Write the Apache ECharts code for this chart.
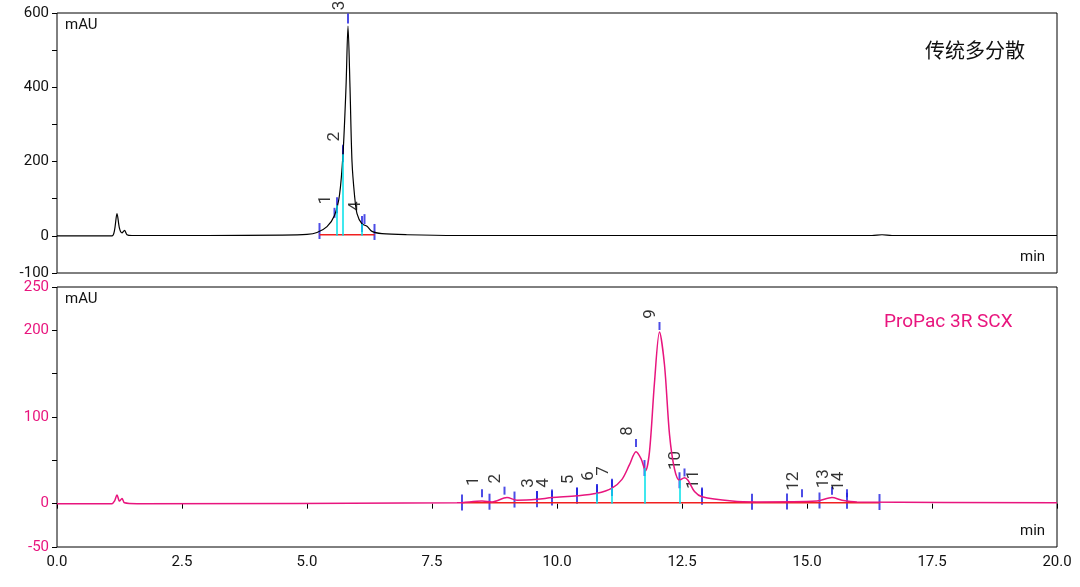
<!DOCTYPE html><html><head><meta charset="utf-8"><script src="https://cdn.jsdelivr.net/npm/echarts@6/dist/echarts.min.js"></script></head><body style="margin:0"><div id="c" style="width:1080px;height:587px"></div><script>
const xTicks=[0,2.5,5,7.5,10,12.5,15,17.5,20];
const topTrace=[[0,0],[1.1,0],[1.15,15],[1.2,60],[1.25,20],[1.3,8],[1.35,15],[1.4,3],[1.5,1],[3,1],[4.5,2],[5.0,4],[5.2,9],[5.4,25],[5.55,55],[5.65,110],[5.72,220],[5.78,400],[5.82,565],[5.86,400],[5.9,200],[5.95,110],[6.0,60],[6.1,32],[6.2,26],[6.3,12],[6.5,6],[7,3],[8,1],[16.3,1],[16.5,3],[16.7,1],[20,1]];
const botTrace=[[0,0],[1.1,0],[1.15,3],[1.2,10],[1.25,3],[1.3,6],[1.35,1],[1.6,0],[8,1],[8.5,3],[8.7,2],[9.0,7],[9.2,4],[9.6,5],[9.9,7],[10.4,9],[10.8,12],[11.1,18],[11.3,28],[11.45,45],[11.58,60],[11.68,52],[11.77,38],[11.85,60],[11.95,140],[12.05,198],[12.15,160],[12.25,80],[12.35,40],[12.45,27],[12.55,30],[12.62,27],[12.75,14],[12.9,8],[13.5,3],[14,2],[15.2,3],[15.5,7],[15.7,4],[16,2],[20,1]];
const topPeaks=[[5.55,62,'1'],[5.72,232,'2'],[5.82,585,'3'],[6.15,45,'4']];
const topBounds=[5.25,5.6,5.72,6.1,6.35];
const botPeaks=[[8.5,12,'1'],[8.95,15,'2'],[9.6,10,'3'],[9.9,10,'4'],[10.4,14,'5'],[10.8,18,'6'],[11.1,24,'7'],[11.58,70,'8'],[12.05,205,'9'],[12.55,36,'10'],[12.9,14,'11'],[14.9,12,'12'],[15.5,15,'13'],[15.8,12,'14']];
const botBounds=[8.1,8.65,9.15,9.6,9.9,10.4,10.8,11.1,11.75,12.45,12.9,13.9,14.6,15.25,15.8,16.45];
const topDrops=[5.6,5.72,6.1];
const botDrops=[10.8,11.1,11.75,12.45];
const topLabels=[-100,0,200,400,600];
const botLabels=[-50,0,100,200,250];
function interp(tr,x){for(let i=1;i<tr.length;i++){if(tr[i][0]>=x){const a=tr[i-1],b=tr[i];return a[1]+(b[1]-a[1])*(x-a[0])/(b[0]-a[0]);}}return 0;}
const ch=echarts.init(document.getElementById('c'));
function peakSeries(peaks,xi,yi,h){return {type:'scatter',xAxisIndex:xi,yAxisIndex:yi,symbol:'rect',symbolSize:[2,h],itemStyle:{color:'#2020e0'},data:peaks.map(p=>({value:[p[0],p[1]],label:{show:true,formatter:p[2],rotate:90,position:'top',distance:8,color:'#000',fontSize:17,fontFamily:'Roboto'}}))};}
function boundSeries(b,xi,yi,tr,h){return {type:'scatter',xAxisIndex:xi,yAxisIndex:yi,symbol:'rect',symbolSize:[2,h],itemStyle:{color:'#2020e0'},data:b.map(x=>[x,interp(tr,x)])};}
function drops(d,xi,yi,tr){return {type:'line',xAxisIndex:xi,yAxisIndex:yi,symbol:'none',data:[],markLine:{silent:true,symbol:'none',lineStyle:{color:'#00e0e8',type:'solid',width:1.5},label:{show:false},data:d.map(x=>[{coord:[x,0]},{coord:[x,interp(tr,x)]}])}};}
const yl={fontSize:15,fontFamily:'Roboto'};
ch.setOption({animation:false,
grid:[{left:57,right:23,top:13,height:260,show:true,borderColor:'#000',borderWidth:1},{left:57,right:23,top:287,height:260,show:true,borderColor:'#000',borderWidth:1}],
xAxis:[{gridIndex:0,type:'value',min:0,max:20,interval:2.5,axisLabel:{show:false},axisTick:{show:false},splitLine:{show:false},axisLine:{show:false}},
{gridIndex:1,type:'value',min:0,max:20,interval:2.5,axisLabel:{...yl,color:'#111',formatter:v=>v.toFixed(1)},axisTick:{show:true,lineStyle:{color:'#000'}},splitLine:{show:false},axisLine:{show:false}}],
yAxis:[{gridIndex:0,type:'value',min:-100,max:600,interval:100,axisLabel:{...yl,color:'#111',formatter:v=>topLabels.includes(v)?v:''},axisTick:{show:true,interval:(i,v)=>topLabels.includes(+v),lineStyle:{color:'#000'}},splitLine:{show:false},axisLine:{show:false}},
{gridIndex:1,type:'value',min:-50,max:250,interval:50,axisLabel:{...yl,color:'#e8157e',formatter:v=>botLabels.includes(v)?v:''},axisTick:{show:true,interval:(i,v)=>botLabels.includes(+v),lineStyle:{color:'#000'}},splitLine:{show:false},axisLine:{show:false}}],
graphic:[
{type:'text',left:65,top:18,style:{text:'mAU',fontSize:15,fontFamily:'Roboto',fill:'#111'}},
{type:'text',left:65,top:292,style:{text:'mAU',fontSize:15,fontFamily:'Roboto',fill:'#111'}},
{type:'text',left:1020,top:250,style:{text:'min',fontSize:15,fontFamily:'Roboto',fill:'#111'}},
{type:'text',left:1020,top:524,style:{text:'min',fontSize:15,fontFamily:'Roboto',fill:'#111'}},
{type:'text',left:925,top:40,style:{text:'传统多分散',fontSize:20,fontFamily:'Noto Sans CJK SC',fill:'#111'}},
{type:'text',left:884,top:313,style:{text:'ProPac 3R SCX',fontSize:19,fontFamily:'Roboto',fill:'#e8157e'}}],
series:[
{type:'line',xAxisIndex:0,yAxisIndex:0,symbol:'none',data:[[5.25,3],[6.35,3]],lineStyle:{color:'#f02020',width:1.5}},
{type:'line',xAxisIndex:1,yAxisIndex:1,symbol:'none',data:[[8.1,1],[16.45,1]],lineStyle:{color:'#f02020',width:1.5}},
drops(topDrops,0,0,topTrace),drops(botDrops,1,1,botTrace),
{type:'line',xAxisIndex:0,yAxisIndex:0,symbol:'none',smooth:0.3,data:topTrace,lineStyle:{color:'#000',width:1.2}},
{type:'line',xAxisIndex:1,yAxisIndex:1,symbol:'none',smooth:0.3,data:botTrace,lineStyle:{color:'#e8157e',width:1.5}},
peakSeries(topPeaks,0,0,10),peakSeries(botPeaks,1,1,8),
boundSeries(topBounds,0,0,topTrace,16),boundSeries(botBounds,1,1,botTrace,16)]});
</script></body></html>
